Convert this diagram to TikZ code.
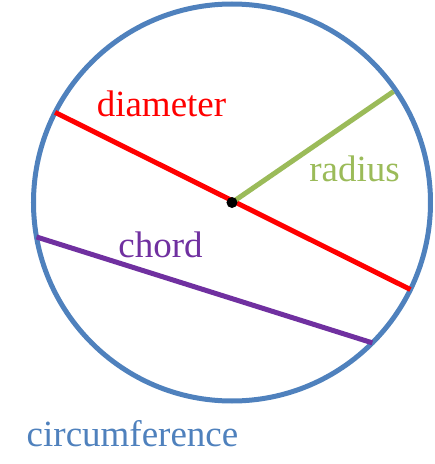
\documentclass[tikz,border=0pt]{standalone}
\usepackage{fontspec}
\setmainfont{Liberation Serif}
\definecolor{rimblue}{RGB}{79,129,189}
\definecolor{spokegreen}{RGB}{155,187,89}
\definecolor{chordpurple}{RGB}{112,48,160}
\definecolor{diamred}{RGB}{255,0,0}
\usepackage{tikz}

\begin{document}
\begin{tikzpicture}[x=1pt,y=1pt]

%
% Styles
%
\tikzstyle{rim}    = [circle,draw=rimblue,line width=5pt,minimum size=397pt,inner sep=0pt,outer sep=0pt]
\tikzstyle{centre} = [circle,fill=black,minimum size=11pt,inner sep=0pt]
\tikzstyle{word}   = [font=\fontsize{37}{40}\selectfont,anchor=base,inner sep=0pt]
\tikzstyle{edge}   = [line width=5pt]

\useasboundingbox (-232,-261.5) rectangle (203,202.5);

\node[rim]    (circ) at (0,0) {};
\coordinate   (r)    at (34.5:196);

\draw[edge,diamred]     (circ.153.2) -- (circ.-26.8);
\draw[edge,spokegreen]  (0,0) -- (r);
\draw[edge,chordpurple] (circ.190.4) -- (circ.-45);

\node[centre] (o) at (0,0) {};

\node[word,diamred]     (dlabel) at (-70.5,86.5)   {diameter};
\node[word,spokegreen]  (rlabel) at (122.5,21.5)   {radius};
\node[word,chordpurple] (clabel) at (-71.5,-54.5)  {chord};
\node[word,rimblue]     (plabel) at (-99.5,-243.5) {circumference};

\end{tikzpicture}
\end{document}
